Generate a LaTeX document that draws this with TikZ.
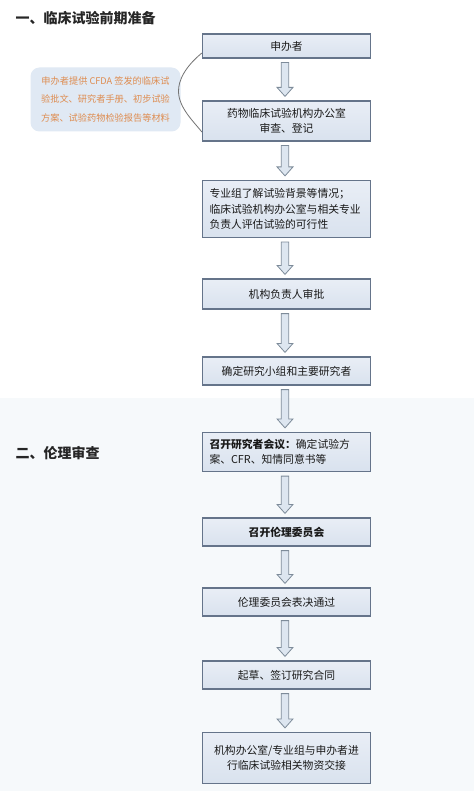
\documentclass[tikz,border=0pt]{standalone}
\usepackage{fontspec}
\setmainfont{Noto Sans CJK SC}
\usetikzlibrary{calc}

\definecolor{boxline}{HTML}{65748A}
\definecolor{boxtop}{HTML}{E9EEF6}
\definecolor{boxbot}{HTML}{D9E2EE}
\definecolor{arrowline}{HTML}{7D8B99}
\definecolor{arrowfill}{HTML}{DDE6F0}
\definecolor{notefill}{HTML}{E0E9F4}
\definecolor{notetext}{HTML}{DE8C50}
\definecolor{lowerbg}{HTML}{F6F9FB}

\tikzset{
	stepbox/.style={draw=boxline, line width=1.2pt, top color=boxtop, bottom color=boxbot,
		text width=154pt, inner xsep=7pt, inner ysep=0pt, align=center,
		font=\fontsize{10.8}{15.5}\selectfont, text=black!90},
	leftbox/.style={stepbox, align=left},
	notebox/.style={fill=notefill, rounded corners=9pt, minimum width=150pt, minimum height=64pt,
		align=center, text=notetext, font=\fontsize{9.2}{18.5}\selectfont},
	sectitle/.style={anchor=west, font=\bfseries\fontsize{14}{14}\selectfont, text=black!85},
	arrowbody/.style={draw=arrowline, line width=0.8pt, fill=arrowfill, line join=miter},
	bracket/.style={draw=black!55, line width=0.8pt}
}

% hollow block arrow from the bottom of one box to the top of the next
\newcommand\flowarrow[2]{%
	\draw[arrowbody] let \p1=($(#1.south)+(-1.5,4)$), \p2=($(#2.north)+(-1.5,-4)$) in
		({\x1-3.7pt},\y1) -- ({\x1+3.7pt},\y1) -- ({\x1+3.7pt},{\y2+9pt}) -- ({\x1+8pt},{\y2+9pt})
		-- (\x1,\y2) -- ({\x1-8pt},{\y2+9pt}) -- ({\x1-3.7pt},{\y2+9pt}) -- cycle;}

\begin{document}
\begin{tikzpicture}[x=1pt, y=-1pt]
	% Frame and lower background
	\useasboundingbox (0,0) rectangle (474,791);
	\fill[white] (0,0) rectangle (474,398);
	\fill[lowerbg] (0,398) rectangle (474,791);
	
	% Section titles
	\node[sectitle] (sec1) at (12,18) {一、临床试验前期准备};
	\node[sectitle] (sec2) at (12,453) {二、伦理审查};
	
	% Part one
	\node[stepbox, minimum height=24pt] (sponsor) at (286.5,46) {申办者};
	\node[stepbox, minimum height=40pt] (office) at (286.5,121) {药物临床试验机构办公室\\审查、登记};
	\node[leftbox, minimum height=57pt] (assess) at (286.5,209) {专业组了解试验背景等情况；\\临床试验机构办公室与相关专业\\负责人评估试验的可行性};
	\node[stepbox, minimum height=30pt] (approve) at (286.5,294) {机构负责人审批};
	\node[stepbox, minimum height=28pt] (team) at (286.5,371) {确定研究小组和主要研究者};
	
	% Part two
	\node[leftbox, minimum height=39pt] (meeting) at (286.5,452) {{\bfseries 召开研究者会议：}确定试验方\\案、CFR、知情同意书等};
	\node[stepbox, minimum height=28pt, font=\bfseries\fontsize{10.8}{15.5}\selectfont] (ethics) at (286.5,532) {召开伦理委员会};
	\node[stepbox, minimum height=28pt] (vote) at (286.5,602) {伦理委员会表决通过};
	\node[stepbox, minimum height=28pt] (contract) at (286.5,675) {起草、签订研究合同};
	\node[stepbox, minimum height=51pt] (handover) at (286.5,758) {机构办公室/专业组与申办者进\\行临床试验相关物资交接};
	
	% Arrows
	\flowarrow{sponsor}{office}
	\flowarrow{office}{assess}
	\flowarrow{assess}{approve}
	\flowarrow{approve}{team}
	\flowarrow{team}{meeting}
	\flowarrow{meeting}{ethics}
	\flowarrow{ethics}{vote}
	\flowarrow{vote}{contract}
	\flowarrow{contract}{handover}
	
	% Sponsor materials note with bracket
	\node[notebox] (note) at (105.5,99.5) {申办者提供 CFDA 签发的临床试\\验批文、研究者手册、初步试验\\方案、试验药物检验报告等材料};
	\draw[bracket] ($(sponsor.west)+(0,7)$) .. controls (186,66) and (178,80) .. (178.5,92)
		.. controls (179,108) and (194,122) .. ($(office.west)+(0,11)$);
\end{tikzpicture}
\end{document}
